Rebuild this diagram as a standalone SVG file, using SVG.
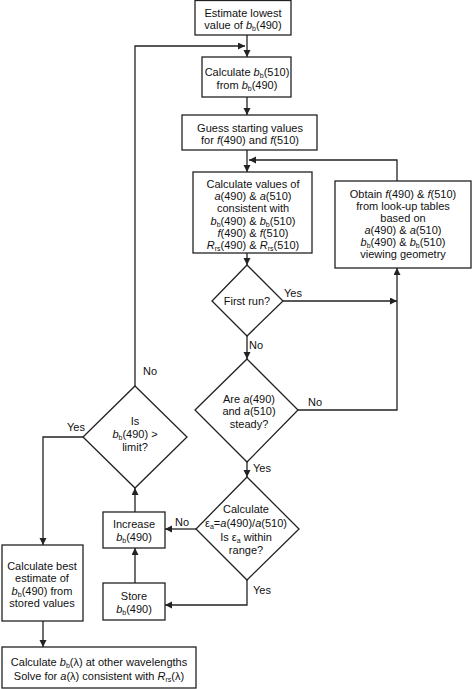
<svg xmlns="http://www.w3.org/2000/svg" width="474" height="689" viewBox="0 0 474 689">
<style>
text{font-family:"Liberation Sans",Arial,sans-serif;font-size:11px;fill:#111;text-anchor:middle}
.l{text-anchor:start}
.i{font-style:italic}
.s{font-size:7px}
.n{fill:#fff;stroke:#222;stroke-width:1.3}
.c{fill:none;stroke:#222;stroke-width:1.3}
</style>
<defs>
<marker id="ah" markerUnits="userSpaceOnUse" markerWidth="8" markerHeight="8" refX="7" refY="3.5" orient="auto">
<path d="M0,0 L7,3.5 L0,7 z" fill="#222"/>
</marker>
</defs>
<g id="connectors">
<path class="c" d="M247,35 V57" marker-end="url(#ah)"/>
<path class="c" d="M247,97 V115" marker-end="url(#ah)"/>
<path class="c" d="M247,150 V172" marker-end="url(#ah)"/>
<path class="c" d="M247,253 V265" marker-end="url(#ah)"/>
<path class="c" d="M283,301 H397" marker-end="url(#ah)"/>
<path class="c" d="M247,336 V359" marker-end="url(#ah)"/>
<path class="c" d="M298,410 H397 V268" marker-end="url(#ah)"/>
<path class="c" d="M397,181 V160 H249" marker-end="url(#ah)"/>
<path class="c" d="M247,462 V477" marker-end="url(#ah)"/>
<path class="c" d="M196,529 H165" marker-end="url(#ah)"/>
<path class="c" d="M247,580 V605 H165" marker-end="url(#ah)"/>
<path class="c" d="M135,583 V548" marker-end="url(#ah)"/>
<path class="c" d="M135,512 V488" marker-end="url(#ah)"/>
<path class="c" d="M135,386 V46 H245" marker-end="url(#ah)"/>
<path class="c" d="M83,437 H43 V545" marker-end="url(#ah)"/>
<path class="c" d="M43,621 V647" marker-end="url(#ah)"/>
<text class="l" x="284" y="297">Yes</text>
<text class="l" x="249" y="349">No</text>
<text class="l" x="308" y="406">No</text>
<text class="l" x="253" y="472">Yes</text>
<text class="l" x="175" y="526">No</text>
<text class="l" x="253" y="594">Yes</text>
<text class="l" x="143" y="375">No</text>
<text class="l" x="67" y="431">Yes</text>
</g>
<g id="estimate">
<rect class="n" x="195" y="0.5" width="96" height="34.5"/>
<text x="243" y="17">Estimate lowest</text>
<text x="243" y="29">value of <tspan class="i">b</tspan><tspan class="s" dy="2">b</tspan><tspan dy="-2">(490)</tspan></text>
</g>
<g id="calc510">
<rect class="n" x="202" y="57" width="89" height="40"/>
<text x="247" y="76">Calculate <tspan class="i">b</tspan><tspan class="s" dy="2">b</tspan><tspan dy="-2">(510)</tspan></text>
<text x="247" y="89">from <tspan class="i">b</tspan><tspan class="s" dy="2">b</tspan><tspan dy="-2">(490)</tspan></text>
</g>
<g id="guess">
<rect class="n" x="182" y="115" width="135" height="35"/>
<text x="250" y="132">Guess starting values</text>
<text x="250" y="144">for <tspan class="i">f</tspan>(490) and <tspan class="i">f</tspan>(510)</text>
</g>
<g id="calcvalues">
<rect class="n" x="193" y="172" width="119" height="81"/>
<text x="253" y="188">Calculate values of</text>
<text x="253" y="200"><tspan class="i">a</tspan>(490) &amp; <tspan class="i">a</tspan>(510)</text>
<text x="253" y="212">consistent with</text>
<text x="253" y="225"><tspan class="i">b</tspan><tspan class="s" dy="2">b</tspan><tspan dy="-2">(490) &amp; </tspan><tspan class="i">b</tspan><tspan class="s" dy="2">b</tspan><tspan dy="-2">(510)</tspan></text>
<text x="253" y="237"><tspan class="i">f</tspan>(490) &amp; <tspan class="i">f</tspan>(510)</text>
<text x="253" y="249"><tspan class="i">R</tspan><tspan class="s" dy="2">rs</tspan><tspan dy="-2">(490) &amp; </tspan><tspan class="i">R</tspan><tspan class="s" dy="2">rs</tspan><tspan dy="-2">(510)</tspan></text>
</g>
<g id="obtain">
<rect class="n" x="335" y="181" width="136" height="87"/>
<text x="403" y="198">Obtain <tspan class="i">f</tspan>(490) &amp; <tspan class="i">f</tspan>(510)</text>
<text x="403" y="210">from look-up tables</text>
<text x="403" y="222">based on</text>
<text x="403" y="234"><tspan class="i">a</tspan>(490) &amp; <tspan class="i">a</tspan>(510)</text>
<text x="403" y="246"><tspan class="i">b</tspan><tspan class="s" dy="2">b</tspan><tspan dy="-2">(490) &amp; </tspan><tspan class="i">b</tspan><tspan class="s" dy="2">b</tspan><tspan dy="-2">(510)</tspan></text>
<text x="403" y="258">viewing geometry</text>
</g>
<g id="firstrun">
<polygon class="n" points="247,265 283,301 247,336 212,301"/>
<text x="247" y="305">First run?</text>
</g>
<g id="steady">
<polygon class="n" points="247,359 298,410 247,462 195,410"/>
<text x="249" y="403">Are <tspan class="i">a</tspan>(490)</text>
<text x="249" y="415">and <tspan class="i">a</tspan>(510)</text>
<text x="249" y="428">steady?</text>
</g>
<g id="range">
<polygon class="n" points="247,477 299,529 247,580 196,529"/>
<text x="246" y="513">Calculate</text>
<text x="246" y="527">ε<tspan class="s" dy="2">a</tspan><tspan dy="-2">=</tspan><tspan class="i">a</tspan>(490)/<tspan class="i">a</tspan>(510)</text>
<text x="246" y="541">Is ε<tspan class="s" dy="2">a</tspan><tspan dy="-2"> within</tspan></text>
<text x="246" y="554">range?</text>
</g>
<g id="increase">
<rect class="n" x="103" y="512" width="62" height="36"/>
<text x="134" y="528">Increase</text>
<text x="134" y="541"><tspan class="i">b</tspan><tspan class="s" dy="2">b</tspan><tspan dy="-2">(490)</tspan></text>
</g>
<g id="store">
<rect class="n" x="103" y="583" width="62" height="37"/>
<text x="134" y="600">Store</text>
<text x="134" y="613"><tspan class="i">b</tspan><tspan class="s" dy="2">b</tspan><tspan dy="-2">(490)</tspan></text>
</g>
<g id="limit">
<polygon class="n" points="135,386 187,437 135,488 83,437"/>
<text x="135" y="425">Is</text>
<text x="135" y="438"><tspan class="i">b</tspan><tspan class="s" dy="2">b</tspan><tspan dy="-2">(490) &gt;</tspan></text>
<text x="135" y="451">limit?</text>
</g>
<g id="best">
<rect class="n" x="2" y="545" width="81" height="76"/>
<text x="42" y="570">Calculate best</text>
<text x="42" y="582">estimate of</text>
<text x="42" y="595"><tspan class="i">b</tspan><tspan class="s" dy="2">b</tspan><tspan dy="-2">(490) from</tspan></text>
<text x="42" y="607">stored values</text>
</g>
<g id="final">
<rect class="n" x="2" y="647" width="194" height="41"/>
<text x="99" y="666">Calculate <tspan class="i">b</tspan><tspan class="s" dy="2">b</tspan><tspan dy="-2">(λ) at other wavelengths</tspan></text>
<text x="99" y="680">Solve for <tspan class="i">a</tspan>(λ) consistent with <tspan class="i">R</tspan><tspan class="s" dy="2">rs</tspan><tspan dy="-2">(λ)</tspan></text>
</g>
</svg>
